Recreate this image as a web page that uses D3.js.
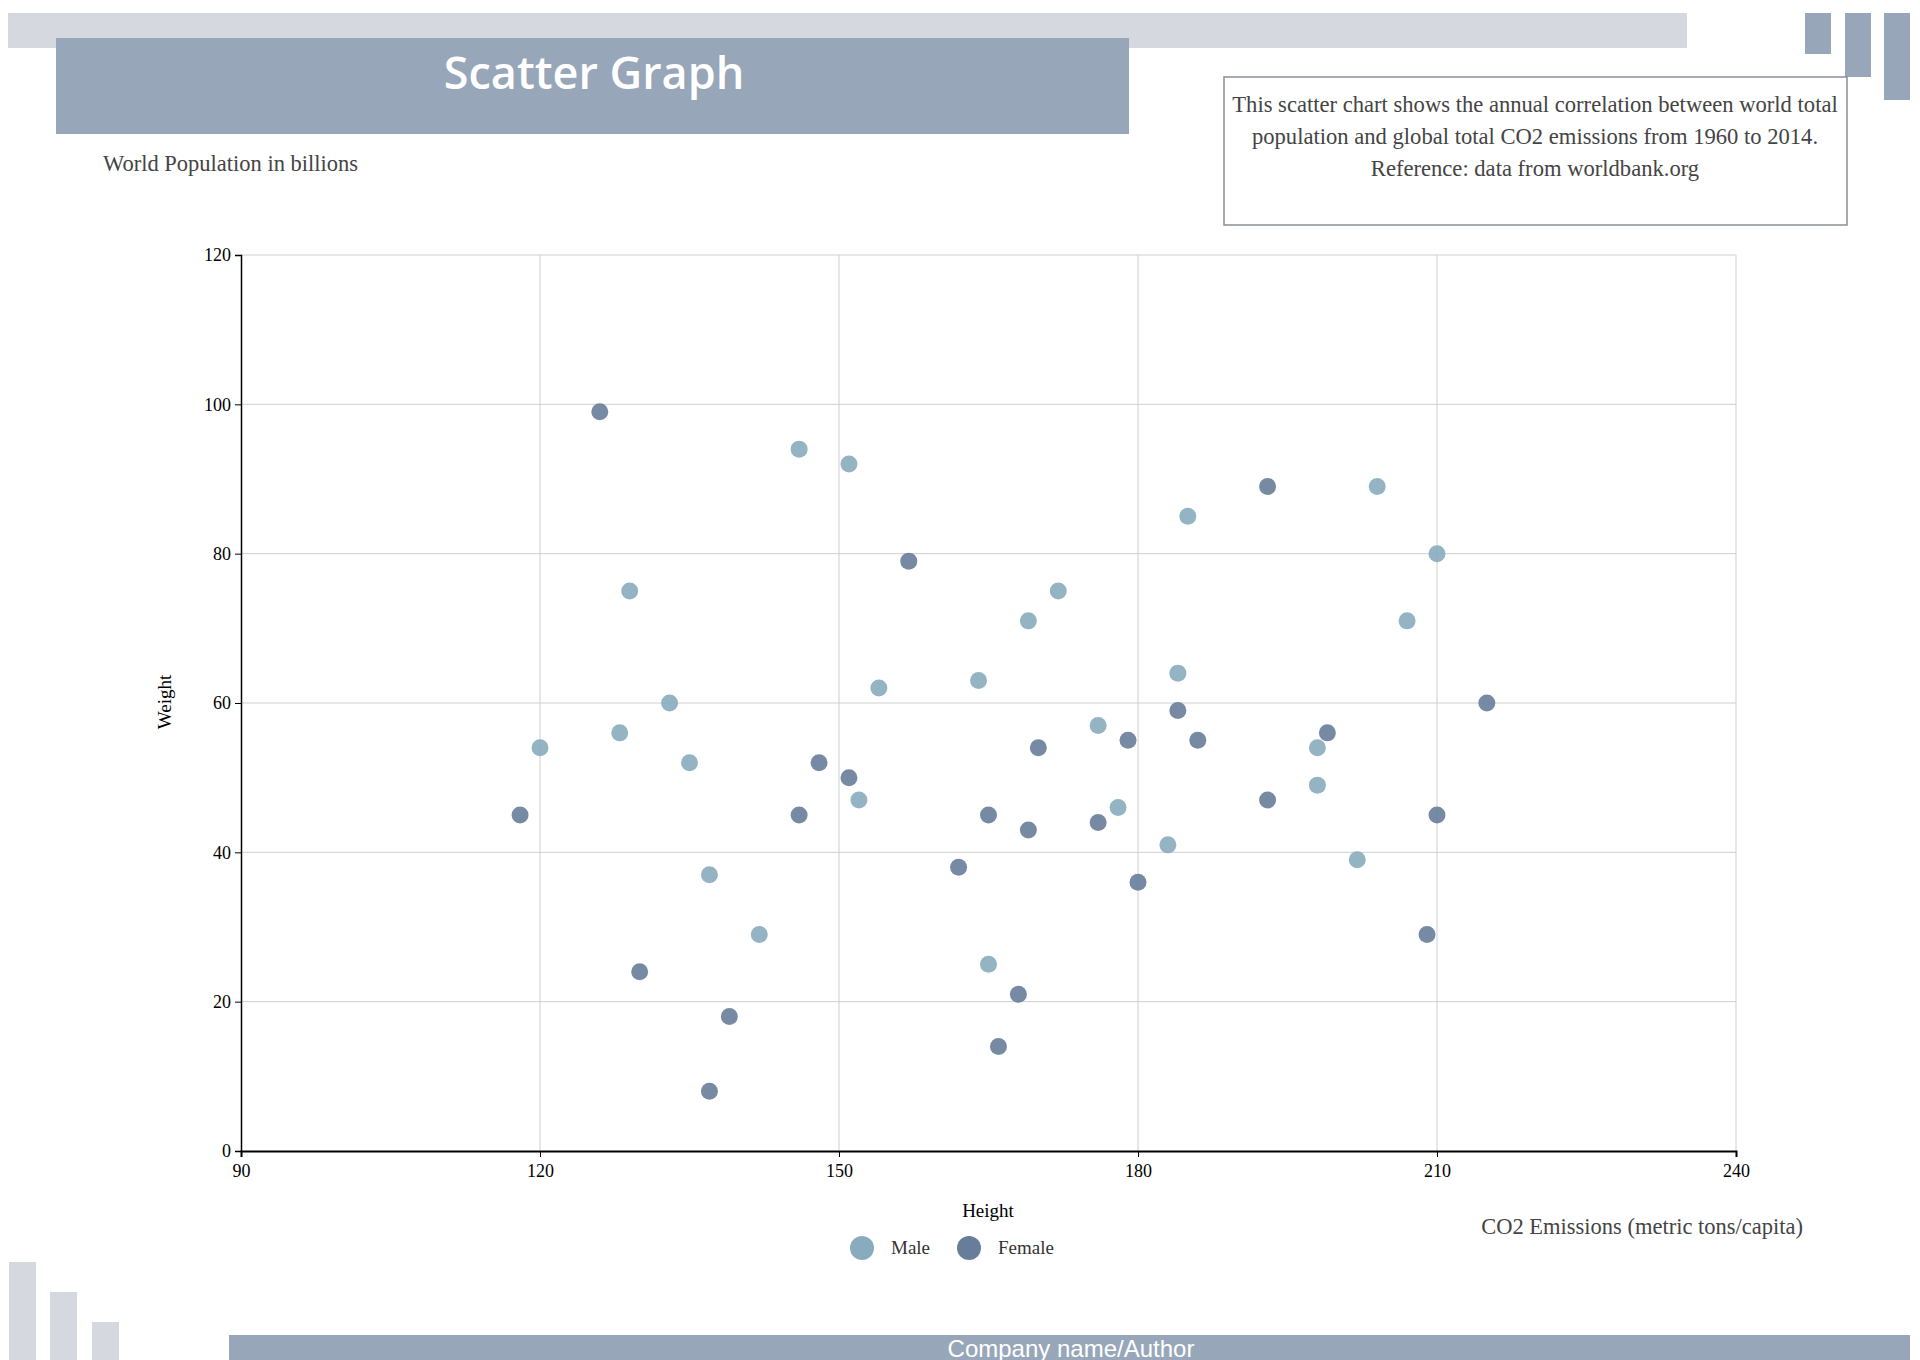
<!DOCTYPE html>
<html>
<head>
<meta charset="utf-8">
<script src="https://cdnjs.cloudflare.com/ajax/libs/d3/7.8.5/d3.min.js"></script>
<style>
  body { margin: 0; background: #fff; }
  .tick text { font-family: "Liberation Serif", serif; font-size: 18px; fill: #000; }
</style>
</head>
<body>
<svg width="1920" height="1360"></svg>
<script>
// Data: [height, weight]
const maleData = [
  [146, 94], [151, 92], [129, 75], [133, 60], [120, 54], [128, 56], [135, 52],
  [137, 37], [142, 29], [154, 62], [152, 47], [164, 63], [169, 71], [172, 75],
  [185, 85], [184, 64], [176, 57], [178, 46], [183, 41], [165, 25], [204, 89],
  [210, 80], [207, 71], [198, 54], [198, 49], [202, 39]
];
const femaleData = [
  [126, 99], [118, 45], [130, 24], [139, 18], [137, 8], [146, 45], [148, 52],
  [151, 50], [157, 79], [162, 38], [165, 45], [169, 43], [170, 54], [168, 21],
  [166, 14], [176, 44], [179, 55], [184, 59], [186, 55], [180, 36], [193, 89],
  [193, 47], [199, 56], [215, 60], [210, 45], [209, 29]
];
const xTicks = [90, 120, 150, 180, 210, 240];
const yTicks = [0, 20, 40, 60, 80, 100, 120];
const seriesNames = ["Male", "Female"];
const seriesColors = ["#88acbd", "#687d9a"];
const descLines = [
  "This scatter chart shows the annual correlation between world total",
  "population and global total CO2 emissions from 1960 to 2014.",
  "Reference: data from worldbank.org"
];

let svg = d3.select("svg");
const serif = "Liberation Serif, serif";

// decoration
svg.append("rect").attr("x", 8).attr("y", 13).attr("width", 1679).attr("height", 35).attr("fill", "#d5d9df");
svg.append("rect").attr("x", 56).attr("y", 38).attr("width", 1073).attr("height", 96).attr("fill", "#97a7b9");
svg.append("text").attr("x", 594).attr("y", 89).attr("text-anchor", "middle")
    .attr("font-family", "Open Sans, sans-serif").attr("font-weight", 600)
    .attr("font-size", 45).attr("fill", "#fff").text("Scatter Graph");

[[1805, 54], [1845, 77], [1884, 100]].forEach(b => {
  svg.append("rect").attr("x", b[0]).attr("y", 13).attr("width", 26).attr("height", b[1] - 13).attr("fill", "#97a7b9");
});
[[9, 1262], [50, 1292], [92, 1322]].forEach(b => {
  svg.append("rect").attr("x", b[0]).attr("y", b[1]).attr("width", 27).attr("height", 1360 - b[1]).attr("fill", "#d5d9df");
});

svg.append("rect").attr("x", 1224).attr("y", 77).attr("width", 623).attr("height", 148)
    .attr("fill", "none").attr("stroke", "#8a8f96").attr("stroke-width", 1.5);
descLines.forEach((l, i) => {
  svg.append("text").attr("x", 1535).attr("y", 112 + i * 32).attr("text-anchor", "middle")
      .attr("font-family", serif).attr("font-size", 22.6).attr("fill", "#444").text(l);
});

svg.append("text").attr("x", 103).attr("y", 171).attr("font-family", serif)
    .attr("font-size", 22.5).attr("fill", "#444").text("World Population in billions");
svg.append("text").attr("x", 1803).attr("y", 1234).attr("text-anchor", "end").attr("font-family", serif)
    .attr("font-size", 22.5).attr("fill", "#444").text("CO2 Emissions (metric tons/capita)");

svg.append("rect").attr("x", 229).attr("y", 1335).attr("width", 1681).attr("height", 25).attr("fill", "#97a7b9");
svg.append("text").attr("x", 1071).attr("y", 1357).attr("text-anchor", "middle")
    .attr("font-family", "Liberation Sans, sans-serif").attr("font-size", 24).attr("fill", "#fff")
    .text("Company name/Author");

// chart
const x = d3.scaleLinear().domain([90, 240]).range([241, 1736]);
const y = d3.scaleLinear().domain([0, 120]).range([1151, 255]);

let grid = svg.append("g");
grid.selectAll("line.v").data(xTicks.slice(1)).enter().append("line")
    .attr("x1", d => x(d)).attr("x2", d => x(d)).attr("y1", y(0)).attr("y2", y(120))
    .attr("stroke", "#cfcfcf");
grid.selectAll("line.h").data(yTicks.slice(1)).enter().append("line")
    .attr("x1", x(90)).attr("x2", x(240)).attr("y1", d => y(d)).attr("y2", d => y(d))
    .attr("stroke", "#cfcfcf");

svg.append("g").attr("transform", `translate(0,${y(0)})`)
    .call(d3.axisBottom(x).tickValues(xTicks).tickSize(6).tickPadding(7))
    .call(g => g.select(".domain").attr("stroke-width", 2));
svg.append("g").attr("transform", `translate(${x(90)},0)`)
    .call(d3.axisLeft(y).tickValues(yTicks).tickSize(6).tickPadding(4))
    .call(g => g.select(".domain").attr("stroke-width", 1.5));

svg.append("text").attr("x", 988).attr("y", 1217).attr("text-anchor", "middle")
    .attr("font-family", serif).attr("font-size", 19).text("Height");
svg.append("text").attr("transform", "translate(171,702) rotate(-90)").attr("text-anchor", "middle")
    .attr("font-family", serif).attr("font-size", 19).text("Weight");

[maleData, femaleData].forEach((data, i) => {
  svg.append("g").selectAll("circle").data(data).enter().append("circle")
      .attr("cx", d => x(d[0])).attr("cy", d => y(d[1])).attr("r", 8.5)
      .attr("fill", seriesColors[i]).attr("opacity", 0.9);
});

// legend
const legendX = [862, 969];
seriesNames.forEach((n, i) => {
  svg.append("circle").attr("cx", legendX[i]).attr("cy", 1248).attr("r", 12).attr("fill", seriesColors[i]);
  svg.append("text").attr("x", legendX[i] + 29).attr("y", 1254).attr("font-family", serif)
      .attr("font-size", 19).attr("fill", "#333").text(n);
});
</script>
</body>
</html>
